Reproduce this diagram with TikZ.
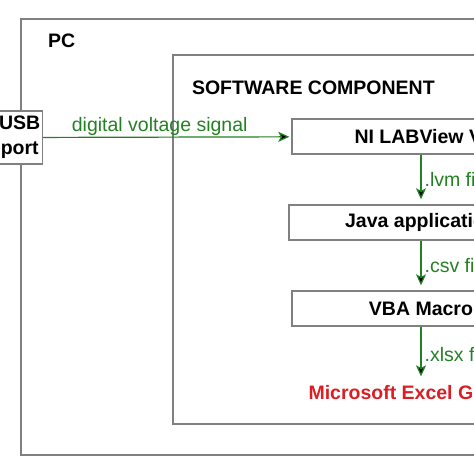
\documentclass[tikz,border=0pt]{standalone}
\usepackage{fontspec}
\setmainfont{Liberation Sans}
\usepackage{tikz}
\usetikzlibrary{positioning,arrows.meta}
\definecolor{framegray}{RGB}{128,128,128}
\definecolor{flowgreen}{RGB}{35,128,35}
\definecolor{excelred}{RGB}{218,30,35}

\begin{document}
\begin{tikzpicture}[x=1pt, y=1pt, shorten >=5pt, node distance=86pt, line width=1.4pt]
   \tikzstyle{every node} = [font=\fontsize{19.5}{23}\selectfont];
   \tikzstyle{stage} = [rectangle, draw=framegray, minimum width=258pt, minimum height=35pt, inner sep=2pt, font=\fontsize{19.5}{23}\selectfont\bfseries];
   \tikzstyle{flow} = [draw=flowgreen, line width=1.2pt, -{Stealth[length=11pt, width=10pt, inset=2.5pt]}];
   \tikzstyle{flowlabel} = [text=flowgreen, inner sep=3pt];
   \useasboundingbox (0,0) rectangle (474,474);
   \clip (0,0) rectangle (474,474);
   % frames
   \draw[framegray] (21,19) rectangle (620,455);
   \draw[framegray] (173,50) rectangle (600,419);
   \node[anchor=west, font=\fontsize{19.5}{23}\selectfont\bfseries] (pc) at (44,433) {PC};
   \node[anchor=west, font=\fontsize{19.5}{23}\selectfont\bfseries] (sw) at (188,386) {SOFTWARE COMPONENT};
   % chain of stages
   \node[rectangle, draw=framegray, fill=white, align=center, inner sep=2pt, minimum height=53pt, anchor=east, font=\fontsize{19.5}{25}\selectfont\bfseries] (usb) at (43,336.5) {USB\\port};
   \node[stage]                     (ni)    at (421,337.5)   {NI LABView VI};
   \node[stage, minimum width=264pt] (java) [below of = ni]   {Java application};
   \node[stage]                     (vba)   [below of = java] {VBA Macro};
   \node[text=excelred, font=\fontsize{19.5}{23}\selectfont\bfseries] (excel) [below of = vba, xshift=-9pt] {Microsoft Excel Graph};
   \coordinate (xl) at (vba.south |- excel.north);
   \path[flow, shorten >=2pt] (usb) edge node[flowlabel, above, pos=0.47, inner sep=1pt] {digital voltage signal} (ni);
   \path[flow] (ni) edge node[flowlabel, right] {.lvm file} (java);
   \path[flow] (java) edge node[flowlabel, right] {.csv file} (vba);
   \path[flow] (vba) edge node[flowlabel, right] {.xlsx file} (xl);
\end{tikzpicture}
\end{document}
